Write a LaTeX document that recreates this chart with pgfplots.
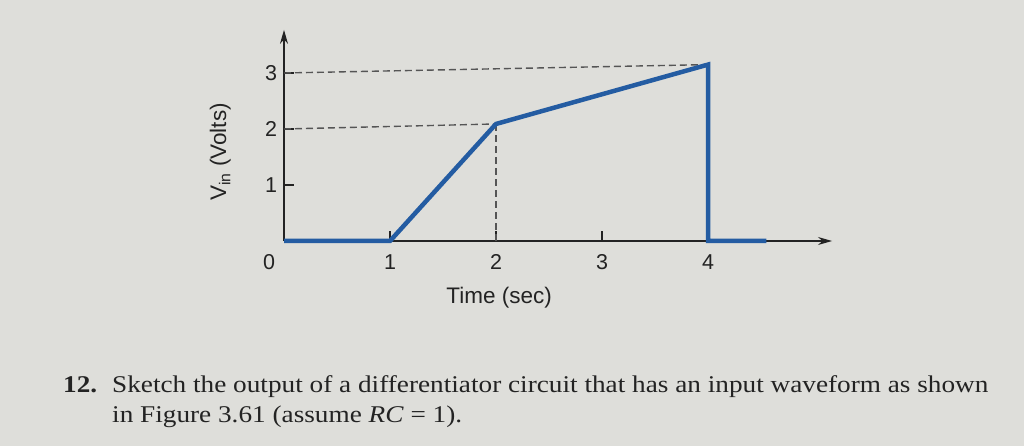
\documentclass[border=0pt]{standalone}
\usepackage{fontspec}
\setmainfont{Liberation Sans}
\newfontfamily\bookfont{Liberation Serif}
\usepackage{pgfplots}
\pgfplotsset{compat=1.18}
\usetikzlibrary{arrows.meta}
\pgfdeclarelayer{background}
\pgfsetlayers{background,main}
\definecolor{paper}{RGB}{222,222,218}
\definecolor{ink}{RGB}{35,35,35}
\definecolor{wave}{RGB}{36,92,162}
\definecolor{dashgray}{RGB}{85,85,85}
\begin{document}
\begin{tikzpicture}[x=1pt,y=1pt]
\begin{axis}[
  x=106pt, y=56pt,
  xmin=0, xmax=5.17, ymin=0, ymax=3.77,
  axis lines=left,
  axis line style={ink, line width=1.5pt, -{Stealth[length=14pt,width=8pt]}},
  clip=false,
  xtick={1,2,3,4}, ytick={1,2,3},
  tick align=inside,
  major tick length=10pt,
  tick style={ink, line width=1.3pt},
  /pgf/number format/assume math mode=true,
  ticklabel style={font=\fontsize{21.5}{24}\selectfont, text=ink},
  xticklabel style={anchor=center, yshift=-21pt},
  yticklabel style={anchor=center, xshift=-13pt},
  every axis x label/.style={at={(axis cs:2.03,-1.02)}, anchor=center, font=\fontsize{22.5}{26}\selectfont, text=ink},
  every axis y label/.style={at={(axis cs:-0.60,1.59)}, anchor=center, rotate=90, font=\fontsize{22.5}{26}\selectfont, text=ink},
  xlabel={Time (sec)},
  ylabel={V\textsubscript{in} (Volts)},
]
\addplot[dashgray, line width=1.4pt, dash pattern=on 7pt off 4pt] coordinates {(0,3) (4,3.15)};
\addplot[dashgray, line width=1.4pt, dash pattern=on 7pt off 4pt] coordinates {(0,2) (2,2.09)};
\addplot[dashgray, line width=1.2pt, dash pattern=on 7pt off 4pt] coordinates {(2,0) (2,2.09)};
\addplot[wave, line width=4.5pt] coordinates {(0,0) (1,0) (2,2.09) (4,3.15) (4,0) (4.55,0)};
\node[font=\fontsize{21.5}{24}\selectfont, text=ink] at (axis cs:-0.14,-0.37) {0};
\coordinate (O) at (axis cs:0,0);
\end{axis}
\path (O) ++(-284,-205) coordinate (SW);
\begin{pgfonlayer}{background}
\fill[paper] (SW) rectangle ++(1024,446);
\end{pgfonlayer}
\pgfresetboundingbox
\useasboundingbox (SW) rectangle ++(1024,446);
\path (SW) ++(63,54) node[anchor=base west, text=ink, inner sep=0pt, font=\bookfont\bfseries\fontsize{24}{28}\selectfont] {\scalebox{1.13}[1]{12.}};
\path (SW) ++(112,54) node[anchor=base west, text=ink, inner sep=0pt, font=\bookfont\fontsize{24}{28}\selectfont] {\scalebox{1.135}[1]{Sketch the output of a differentiator circuit that has an input waveform as shown}};
\path (SW) ++(112,24) node[anchor=base west, text=ink, inner sep=0pt, font=\bookfont\fontsize{24}{28}\selectfont] {\scalebox{1.135}[1]{in Figure 3.61 (assume \textit{RC} = 1).}};
\end{tikzpicture}
\end{document}
